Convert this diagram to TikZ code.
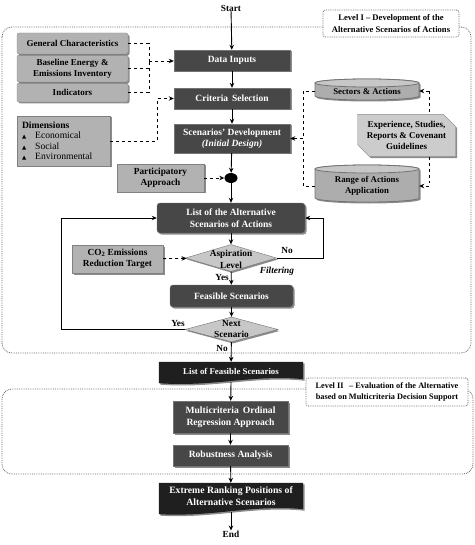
\documentclass[tikz,border=0pt]{standalone}
\usepackage{fontspec}
\setmainfont{Liberation Serif}
\newfontfamily\symf{DejaVu Sans}
\usetikzlibrary{shapes.geometric,shapes.misc,shadows,arrows.meta,calc,backgrounds}
\begin{document}
\begin{tikzpicture}[x=1pt,y=-1pt,
  font=\fontsize{9.5}{11.5}\selectfont\bfseries,
  shd/.style={drop shadow={shadow xshift=1.5pt,shadow yshift=-1.5pt,opacity=0.45,fill=black}},
  darkbox/.style={draw=black!55, fill=black!72, text=white, align=center, inner sep=1pt, shd},
  chambox/.style={rectangle, rounded corners=2pt, draw=black!45, fill=black!30, align=center, inner sep=1pt, shd, font=\fontsize{9}{11}\selectfont\bfseries},
  lightbox/.style={rectangle, draw=black!50, fill=black!30, align=center, inner sep=1pt, shd, font=\fontsize{9.3}{11.5}\selectfont\bfseries},
  dia/.style={diamond, draw=black!55, fill=black!22, inner sep=0pt, aspect=3.4, shd},
  region/.style={draw=black!60, densely dotted, line width=0.8pt, rounded corners=10pt},
  lvl/.style={draw=black!60, densely dotted, line width=0.8pt, fill=white, rounded corners=2.5pt, align=center, inner sep=1pt, font=\fontsize{8.6}{12}\selectfont\bfseries},
  arr/.style={-{Stealth[length=5pt,width=4.5pt]}, line width=0.9pt},
  dasharr/.style={arr, dashed},
  dline/.style={line width=0.9pt, dashed},
  lbl/.style={inner sep=0pt, font=\fontsize{9.3}{11}\selectfont\bfseries}
]
\useasboundingbox (0,0) rectangle (474,545);

% regions
\draw[region] (2,27) rectangle (471,353);
\draw[region] (2,389) rectangle (473,474);
\node[lvl, minimum width=136pt, minimum height=27pt] (lvl1) at (391,23.5) {Level I -- Development of the\\Alternative Scenarios of Actions};
\node[lvl, minimum width=162pt, minimum height=28pt, font=\fontsize{8.3}{11.5}\selectfont\bfseries] (lvl2) at (387,392) {Level II \, -- Evaluation of the Alternative\\based on Multicriteria Decision Support};

% main column
\node[lbl] (start) at (231,8) {Start};
\node[darkbox, minimum width=116pt, minimum height=21pt] (data) at (232,60.5) {Data Inputs};
\node[darkbox, minimum width=116pt, minimum height=21pt] (crit) at (232,98.5) {Criteria \,Selection};
\node[darkbox, minimum width=116pt, minimum height=29pt] (scen) at (232,138.5) {Scenarios’ Development\\\textit{(Initial Design)}};
\node[ellipse, fill=black, minimum width=13pt, minimum height=10pt, inner sep=0pt] (ell) at (231,178) {};
\node[darkbox, rounded corners=3pt, minimum width=148pt, minimum height=30pt] (listalt) at (231,218) {List of the Alternative\\Scenarios of Actions};
\node[dia, minimum width=91pt, minimum height=27pt] (asp) at (231,258) {};
\node[lbl, align=center, font=\fontsize{9.3}{11.5}\selectfont\bfseries] (asptxt) at (231,259.5) {Aspiration\\Level};
\node[darkbox, rounded corners=3pt, minimum width=123pt, minimum height=22pt] (feas) at (231.5,296) {Feasible Scenarios};
\node[dia, minimum width=93pt, minimum height=25pt] (next) at (231.5,329.5) {};
\node[lbl, align=center, font=\fontsize{9.3}{11.5}\selectfont\bfseries] (nexttxt) at (231.5,329) {Next\\Scenario};

\node[inner sep=0pt, minimum width=144pt, minimum height=18pt, text=white, font=\fontsize{8.8}{10}\selectfont\bfseries] (lfeas) at (231,371) {List of Feasible Scenarios};
\node[darkbox, minimum width=115pt, minimum height=32pt, font=\fontsize{9.6}{11.5}\selectfont\bfseries] (mult) at (230.5,417) {Multicriteria \,Ordinal\\Regression Approach};
\node[darkbox, minimum width=115pt, minimum height=21pt, font=\fontsize{9.6}{11}\selectfont\bfseries] (rob) at (230.5,455.5) {Robustness Analysis};
\node[inner sep=0pt, minimum width=144pt, minimum height=27pt, text=white, align=center, font=\fontsize{9.7}{12}\selectfont\bfseries] (ext) at (231,496.5) {Extreme Ranking Positions of\\Alternative Scenarios};
\node[lbl] (end) at (231,534) {End};

\begin{pgfonlayer}{background}
\fill[black!88, shd] (lfeas.north west) -- (lfeas.north east) -- ($(lfeas.south east)+(0,-1)$) .. controls ($(lfeas.south east)+(-50,-6)$) and ($(lfeas.south west)+(55,7)$) .. ($(lfeas.south west)+(0,3)$) -- cycle;
\fill[black!88, shd] (ext.north west) -- (ext.north east) -- ($(ext.south east)+(0,-1)$) .. controls ($(ext.south east)+(-50,-6)$) and ($(ext.south west)+(55,7)$) .. ($(ext.south west)+(0,4)$) -- cycle;
\end{pgfonlayer}

% left inputs
\node[chambox, minimum width=111pt, minimum height=19pt] (ind) at (72.5,92.5) {Indicators};
\node[chambox, minimum width=111pt, minimum height=27pt] (base) at (72.5,68.5) {Baseline Energy \&\\Emissions Inventory};
\node[chambox, minimum width=111pt, minimum height=21pt] (gen) at (72.5,43.5) {General Characteristics};
\node[lightbox, minimum width=93pt, minimum height=50pt, text width=83pt, align=left, inner sep=5pt, font=\fontsize{9.6}{10.7}\selectfont] (dim) at (63.5,141)
 {\textbf{Dimensions}\\[-0.5pt]
  {\symf\fontsize{5.5}{6}\selectfont ▲}\hspace{9pt}Economical\\
  {\symf\fontsize{5.5}{6}\selectfont ▲}\hspace{9pt}Social\\
  {\symf\fontsize{5.5}{6}\selectfont ▲}\hspace{9pt}Environmental};
\node[lightbox, minimum width=87pt, minimum height=28pt] (part) at (160.5,178) {Participatory\\Approach};
\node[lightbox, minimum width=91pt, minimum height=28pt] (co2) at (117.5,259) {CO\textsubscript{2} Emissions\\Reduction Target};

% right side: experience dashed line behind box
\coordinate (j4) at (429,136);
\draw[dline] (j4 |- 0,91) -- (j4 |- 0,183);

% cylinders
\node[inner sep=0pt, minimum width=104pt, minimum height=22pt, font=\fontsize{8.8}{10}\selectfont\bfseries] (sect) at (367,91) {Sectors \& Actions};
\node[inner sep=0pt, minimum width=104pt, minimum height=30pt, align=center, font=\fontsize{8.8}{11}\selectfont\bfseries] (range) at (367,186) {Range of Actions\\Application};
\begin{pgfonlayer}{background}
\path[fill=black!32, draw=black!55, line width=0.8pt, shd] (315,83) -- (315,96) arc[start angle=180, end angle=0, x radius=52, y radius=4] -- (419,83) arc[start angle=0, end angle=-180, x radius=52, y radius=4] -- cycle;
\draw[fill=black!22, draw=black!55, line width=0.8pt] (367,83) ellipse[x radius=52, y radius=4];
\path[fill=black!32, draw=black!55, line width=0.8pt, shd] (315,169) -- (315,198) arc[start angle=180, end angle=0, x radius=52, y radius=4] -- (419,169) arc[start angle=0, end angle=-180, x radius=52, y radius=4] -- cycle;
\draw[fill=black!22, draw=black!55, line width=0.8pt] (367,169) ellipse[x radius=52, y radius=4];
\end{pgfonlayer}

\node[chamfered rectangle, chamfered rectangle corners={north east,south west}, chamfered rectangle xsep=6pt, chamfered rectangle ysep=6pt, draw=black!45, fill=black!20, align=center, inner sep=1pt, shd, font=\fontsize{9}{11}\selectfont\bfseries, minimum width=98pt, minimum height=40pt] (exp) at (406.5,135.5) {Experience, Studies,\\Reports \& Covenant\\Guidelines};

% main arrows
\draw[arr] (start) -- (data);
\draw[arr] (data) -- (crit);
\draw[arr] (crit) -- (scen);
\draw[arr] (scen) -- (ell);
\draw[arr] (ell) -- (listalt);
\draw[arr] (listalt) -- (asp);
\draw[arr] (asp) -- (feas) node[lbl, pos=0.45, left=2pt] {Yes};
\draw[arr] (feas) -- (next);
\draw[arr] (next) -- (lfeas) node[lbl, pos=0.3, left=3pt] {No};
\draw[arr] ($(lfeas.south)+(0,2)$) -- (mult);
\draw[arr] (mult) -- (rob);
\draw[arr] (rob) -- (ext);
\draw[arr] ($(ext.south)+(0,2)$) -- (end);

% loops
\coordinate (n1) at (323,218);
\draw[arr, line width=0.8pt] (asp.east) -| (n1) -- (listalt.east);
\node[lbl] (nolbl) at (287,250.5) {No};
\node[lbl, font=\fontsize{9.3}{10}\selectfont\bfseries\itshape] (filt) at (277,271) {Filtering};
\coordinate (y1) at (61,218);
\draw[arr, line width=0.8pt] (next.west) -| (y1) -- (listalt.west);
\node[lbl] (yeslbl) at (178,323) {Yes};

% dashed input connectors
\coordinate (j1) at (149,61);
\draw[dline] (gen.east) -| (j1);
\draw[dline] (ind.east) -| (j1);
\draw[dline] (base.east) -- (base.east -| j1);
\draw[dasharr] (j1) -- (j1 -| data.west);
\coordinate (j2) at (157,99);
\draw[dasharr] (dim.east) -| (j2 |- crit.west) -- (crit.west);
\draw[dasharr] (part) -- (ell);
\draw[dasharr] (co2) -- (asp);
\coordinate (j3) at (303,138.5);
\draw[dline] (sect.west) -| (j3);
\draw[dline] (range.west) -| (j3);
\draw[dasharr] (j3) -- (scen.east);
\draw[dasharr] (j4 |- sect.east) -- (sect.east);
\draw[dasharr] (j4 |- range.east) -- (range.east);
\end{tikzpicture}
\end{document}
